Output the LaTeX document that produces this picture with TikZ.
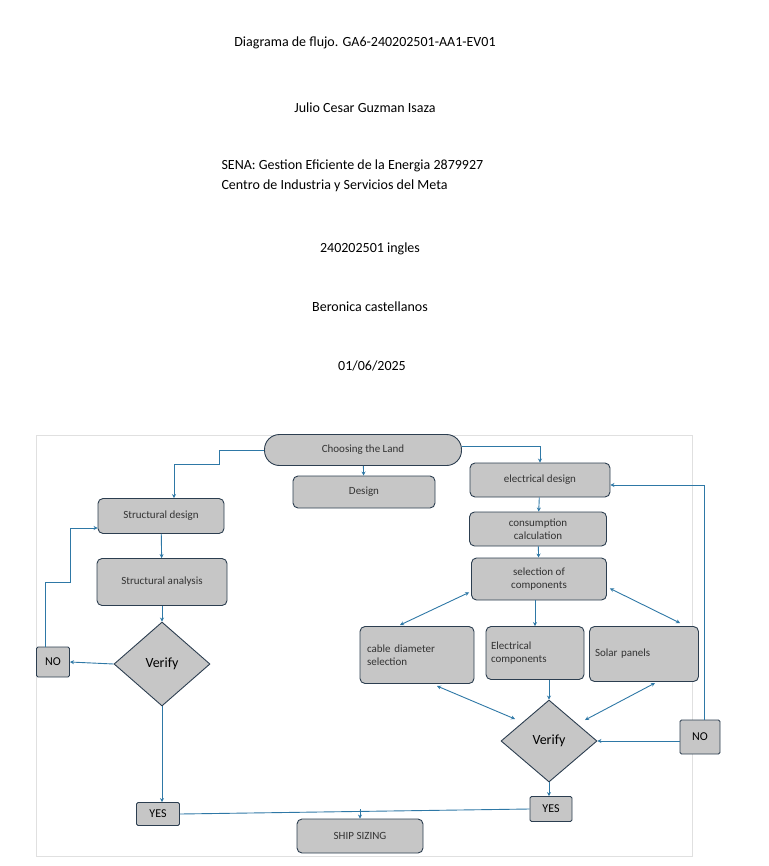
\documentclass[tikz,border=0pt]{standalone}
\usepackage{fontspec}
\setmainfont{Carlito}
\usetikzlibrary{shapes.geometric,arrows.meta,positioning}
\definecolor{boxfill}{HTML}{C6C6C6}
\definecolor{boxline}{HTML}{2C3E50}
\definecolor{flow}{HTML}{2E78A6}
\tikzset{
  box/.style={draw=boxline,fill=boxfill,rounded corners=5pt,line width=0.9pt,font=\fontsize{11}{13}\selectfont,text=black!80,align=center,inner sep=2pt},
  term/.style={box,rounded corners=15pt},
  check/.style={draw=boxline,fill=boxfill,diamond,line width=0.9pt,font=\fontsize{14}{16}\selectfont,inner sep=0pt},
  tag/.style={draw=boxline,fill=boxfill,line width=0.9pt,font=\fontsize{12}{14}\selectfont,rounded corners=1.5pt,inner sep=0pt},
  flw/.style={draw=flow,line width=0.9pt,-{Stealth[length=4pt,width=4pt]}},
  both/.style={flw,{Stealth[length=4pt,width=4pt]}-{Stealth[length=4pt,width=4pt]}},
  head/.style={font=\fontsize{14}{17}\selectfont}
}
\begin{document}
\begin{tikzpicture}[x=1pt,y=-1pt]
  \useasboundingbox (0,0) rectangle (768,866);
  % title lines
  \node[head] (t1) at (365,43) {Diagrama de flujo. GA6-240202501-AA1-EV01};
  \node[head] (t2) at (365,108) {Julio Cesar Guzman Isaza};
  \node[head,anchor=west] (t3) at (218,166) {SENA: Gestion Eficiente de la Energia 2879927};
  \node[head,anchor=west] (t4) at (218,186) {Centro de Industria y Servicios del Meta};
  \node[head] (t5) at (370,249) {240202501 ingles};
  \node[head] (t6) at (370,307) {Beronica castellanos};
  \node[head] (t7) at (372,366) {01/06/2025};

  % faint frame
  \draw[black!12,line width=0.8pt] (36,435) rectangle (692,856);

  % nodes
  \node[term,minimum width=197pt,minimum height=31pt] (land) at (363,450) {Choosing the Land};
  \node[box,minimum width=142pt,minimum height=32pt] (des) at (364,492) {Design};
  \node[box,minimum width=140pt,minimum height=34pt] (eld) at (540,480) {electrical design};
  \node[box,minimum width=137pt,minimum height=34pt] (cons) at (538,529) {consumption\\calculation};
  \node[box,minimum width=135pt,minimum height=42pt] (sel) at (539,579) {selection of\\components};
  \node[box,minimum width=126pt,minimum height=35pt] (sd) at (161,516) {Structural design};
  \node[box,minimum width=130pt,minimum height=47pt] (sa) at (162,582) {Structural analysis};
  \node[check,minimum width=96pt,minimum height=84pt] (v1) at (162,664) {Verify};
  \node[tag,minimum width=33pt,minimum height=30pt] (no1) at (53,662) {NO};
  \node[box,minimum width=114pt,minimum height=57pt,align=left,text width=100pt] (cab) at (417,655) {cable diameter\\selection};
  \node[box,minimum width=98pt,minimum height=53pt,align=left,text width=88pt] (elc) at (535,653) {Electrical\\components};
  \node[box,minimum width=109pt,minimum height=55pt,align=left,text width=98pt] (sol) at (644,654) {Solar panels};
  \node[check,minimum width=96pt,minimum height=82pt] (v2) at (549,741) {Verify};
  \node[tag,minimum width=40pt,minimum height=34pt] (no2) at (700,737) {NO};
  \node[tag,minimum width=43pt,minimum height=23pt] (yes1) at (158,814) {YES};
  \node[tag,minimum width=42pt,minimum height=25pt] (yes2) at (551,809) {YES};
  \node[box,minimum width=126pt,minimum height=34pt] (ship) at (360,836) {SHIP SIZING};

  % connectors
  \draw[flw] (land.west) -- ++(-45,0) -- ++(0,14) -| (sd.north -| 174,0);
  \draw[flw] (land.east |- 0,446) -| (eld.north);
  \draw[flw] (land) -- (des);
  \draw[flw] (eld) -- (cons);
  \draw[flw] (cons) -- (sel);
  \draw[flw] (sel.south -| elc.north) -- (elc);
  \draw[both] (sel.south west) ++(-2,-8) -- (400,625);
  \draw[both] (sel.south east) ++(3,-12) -- (680,623);
  \draw[both] (437,686) -- (515,719);
  \draw[both] (655,683) -- (585,720);
  \draw[flw] (elc.south -| v2.north) -- (v2.north);
  \draw[flw] (v2.south) -- (yes2.north -| v2.south);
  \draw[flw] (no2.west |- v2.east) -- (v2.east);
  \draw[flw] (no2.north -| 704,0) -- (704,485) -- (eld.east |- 0,485);
  \draw[flw] (v1.west) -- (no1.east);
  \draw[flw] (no1.north -| 45,0) -- (45,582) -- (70,582) -- (70,528) -- (sd.west |- 0,528);
  \draw[flw] (sd) -- (sa);
  \draw[flw] (sa) -- (v1.north);
  \draw[flw] (v1.south) -- (yes1.north -| v1.south);
  \draw[draw=flow,line width=0.9pt] (yes2.west) -- (yes1.east);
  \draw[flw] (ship.north |- yes2.west) -- (ship.north);
\end{tikzpicture}
\end{document}
